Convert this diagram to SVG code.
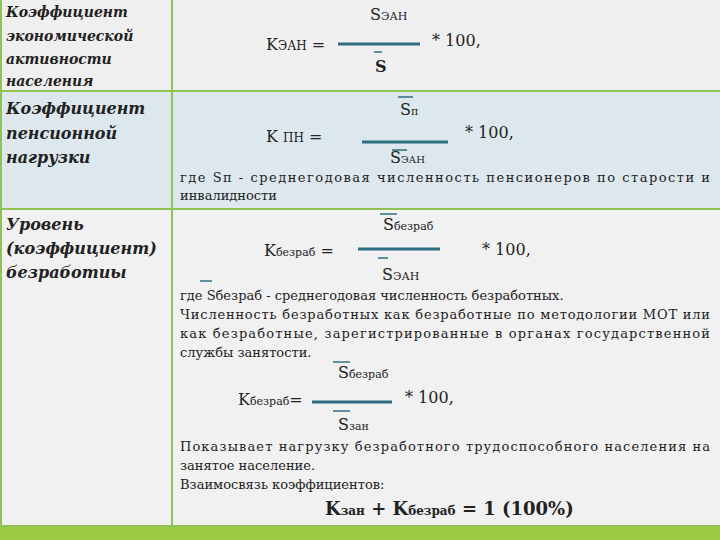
<svg xmlns="http://www.w3.org/2000/svg" width="720" height="540" viewBox="0 0 720 540">
<style>
text{font-family:'DejaVu Serif','Liberation Serif',serif;fill:#222}
.h{font-style:italic;font-weight:bold;font-size:16px}
.h2{font-style:italic;font-weight:bold;font-size:14px}
.t{font-size:13px}
.f{font-size:16px}
.b{font-weight:bold;font-size:18px}
.fr{stroke:#2f6e80;stroke-width:3}
.ov{stroke:#2f6e80;stroke-width:1.5}
</style>
<rect width="720" height="540" fill="#f0efef"/>
<rect x="0" y="92" width="720" height="117" fill="#dde8ee"/>
<rect x="0" y="210" width="720" height="316" fill="#f1f1f1"/>
<rect x="0" y="526" width="720" height="14" fill="#9ccc45"/>
<g stroke="#8fc454" stroke-width="2" fill="none">
<line x1="0" y1="91" x2="720" y2="91"/>
<line x1="0" y1="209" x2="720" y2="209"/>
<line x1="0" y1="526" x2="720" y2="526"/>
<line x1="172" y1="0" x2="172" y2="526"/>
<line x1="1" y1="0" x2="1" y2="526"/>
</g>
<g id="row1">
<text class="h2" x="6" y="17">Коэффициент</text>
<text class="h2" x="6" y="41">экономической</text>
<text class="h2" x="6" y="64">активности</text>
<text class="h2" x="6" y="86">населения</text>
<text class="f" x="370" y="20">S<tspan font-size="11">ЭАН</tspan></text>
<text class="f" x="266" y="50">K<tspan font-size="12">ЭАН</tspan> =</text>
<line class="fr" x1="338" y1="44" x2="420" y2="44"/>
<text class="f" x="432" y="46">* 100,</text>
<line class="ov" x1="374" y1="52" x2="382" y2="52"/>
<text class="f" x="375" y="72" font-weight="bold">S</text>
</g>
<g id="row2">
<text class="h" x="6" y="114">Коэффициент</text>
<text class="h" x="6" y="139">пенсионной</text>
<text class="h" x="6" y="163">нагрузки</text>
<line class="ov" x1="398" y1="97" x2="413" y2="97"/>
<text class="f" x="400" y="115">S<tspan font-size="11">п</tspan></text>
<text class="f" x="266" y="142">K <tspan font-size="12">ПН</tspan> =</text>
<line class="fr" x1="362" y1="142" x2="448" y2="142"/>
<text class="f" x="465" y="138">* 100,</text>
<line class="ov" x1="392" y1="150" x2="407" y2="150"/>
<text class="f" x="390" y="163" font-size="14">S<tspan font-size="10">ЭАН</tspan></text>
<text class="t" x="180" y="182" textLength="530" lengthAdjust="spacing">где Sп - среднегодовая численность пенсионеров по старости и</text>
<text class="t" x="180" y="200">инвалидности</text>
</g>
<g id="row3">
<text class="h" x="6" y="230">Уровень</text>
<text class="h" x="6" y="254">(коэффициент)</text>
<text class="h" x="6" y="278">безработиы</text>
<line class="ov" x1="380" y1="214" x2="397" y2="214"/>
<text class="f" x="383" y="230">S<tspan font-size="11">безраб</tspan></text>
<text class="f" x="264" y="256">K<tspan font-size="11">безраб</tspan> =</text>
<line class="fr" x1="358" y1="249" x2="440" y2="249"/>
<text class="f" x="482" y="255">* 100,</text>
<line class="ov" x1="378" y1="258" x2="388" y2="258"/>
<text class="f" x="382" y="280">S<tspan font-size="11">ЭАН</tspan></text>
<line class="ov" x1="200" y1="281" x2="212" y2="281"/>
<text class="t" x="180" y="300">где Sбезраб - среднегодовая численность безработных.</text>
<text class="t" x="180" y="319" textLength="530" lengthAdjust="spacing">Численность безработных как безработные по методологии МОТ или</text>
<text class="t" x="180" y="338" textLength="530" lengthAdjust="spacing">как безработные, зарегистрированные в органах государственной</text>
<text class="t" x="180" y="357">службы занятости.</text>
<line class="ov" x1="333" y1="362" x2="350" y2="362"/>
<text class="f" x="338" y="378">S<tspan font-size="11">безраб</tspan></text>
<text class="f" x="238" y="405">K<tspan font-size="11">безраб</tspan>=</text>
<line class="fr" x1="312" y1="402" x2="392" y2="402"/>
<text class="f" x="405" y="403">* 100,</text>
<line class="ov" x1="333" y1="411" x2="350" y2="411"/>
<text class="f" x="338" y="430">S<tspan font-size="11">зан</tspan></text>
<text class="t" x="180" y="451" textLength="530" lengthAdjust="spacing">Показывает нагрузку безработного трудоспособного населения на</text>
<text class="t" x="180" y="470">занятое население.</text>
<text class="t" x="180" y="489">Взаимосвязь коэффициентов:</text>
<text class="b" x="325" y="515">K<tspan font-size="12">зан</tspan> + K<tspan font-size="12">безраб</tspan> = 1 (100%)</text>
</g>
</svg>
